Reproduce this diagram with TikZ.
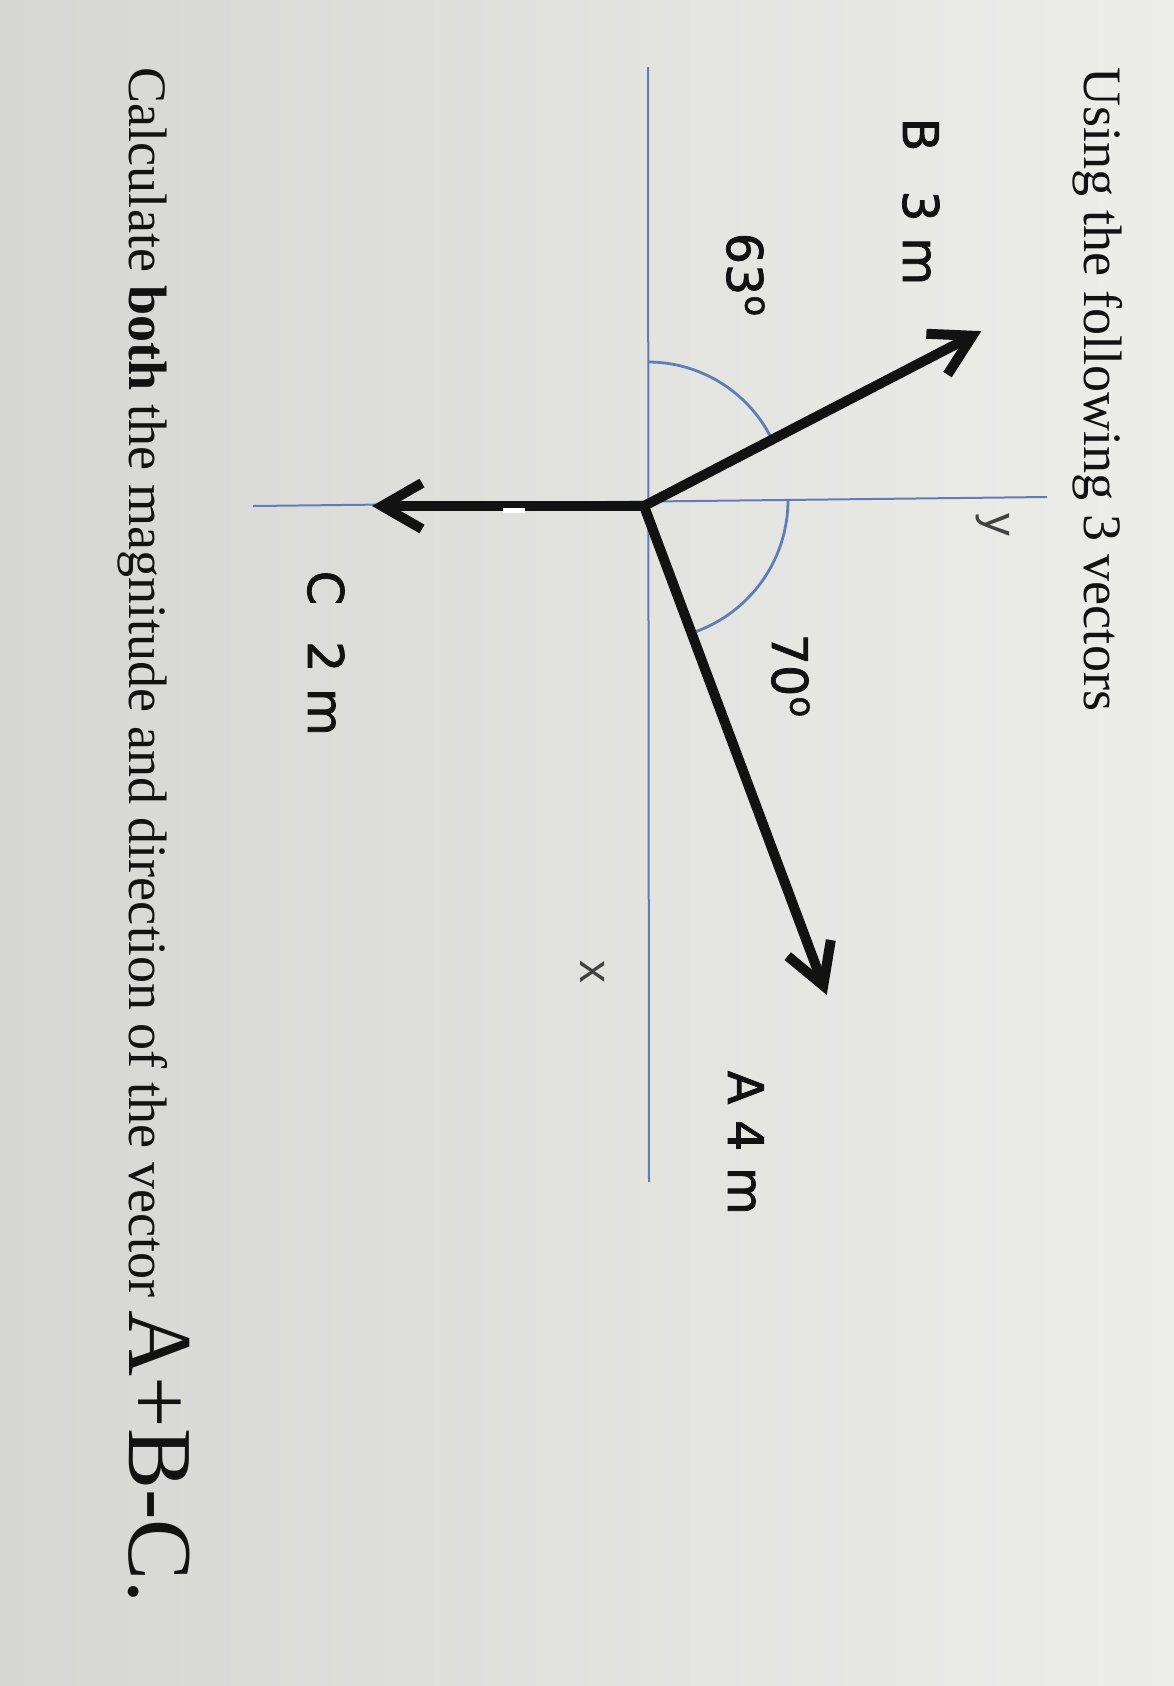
\documentclass[tikz,border=0pt]{standalone}
\usepackage{fontspec}
\setmainfont{Liberation Serif}
\newfontfamily\labelfont[FakeBold=1.5]{DejaVu Sans}
\newfontfamily\axisfont{Liberation Sans}
\usetikzlibrary{arrows.meta}
\definecolor{axisblue}{RGB}{96, 125, 182}
\definecolor{paperleft}{RGB}{214, 215, 212}
\definecolor{paperright}{RGB}{237, 238, 234}
\definecolor{inkblack}{RGB}{18, 18, 18}

\begin{document}
\begin{tikzpicture}[
  x=0.1mm, y=-0.1mm,
  axis/.style={axisblue, line width=0.2mm},
  anglearc/.style={axisblue, line width=0.28mm},
  vec/.style={inkblack, line width=1mm, -{Straight Barb[length=4mm, width=4.6mm]}},
  lbl/.style={rotate=-90, anchor=base west, inner sep=0pt, text=inkblack,
    font=\labelfont\fontsize{14}{16}\selectfont},
  axlbl/.style={rotate=-90, anchor=base west, inner sep=0pt, text=inkblack!80,
    font=\axisfont\fontsize{13}{15}\selectfont},
  txt/.style={rotate=-90, anchor=base west, inner sep=0pt, text=inkblack,
    font=\fontsize{15.4}{18}\selectfont}
]
  % Paper
  \shade[left color=paperleft, right color=paperright] (0,0) rectangle (1174,1686);
  \useasboundingbox (0,0) rectangle (1174,1686);

  % Axes
  \coordinate (xtop) at (648, 67);
  \coordinate (xbot) at (649, 1182);
  \coordinate (yleft) at (253, 506);
  \coordinate (yright) at (1047, 497);
  \draw[axis] (xtop) -- (xbot);
  \draw[axis] (yleft) -- (yright);

  % Angle arcs
  \coordinate (X) at (648, 500);
  \draw[anglearc] ([shift={(-90:138)}]X) arc[start angle=-90, end angle=-27, radius=138];
  \draw[anglearc] ([shift={(0:140)}]X) arc[start angle=0, end angle=70, radius=140];

  % Vectors
  \coordinate (O) at (644, 506);
  \coordinate (A) at ([shift={(69.5:522)}]O);
  \coordinate (B) at ([shift={(-27.4:380)}]O);
  \coordinate (C) at ([shift={(180:272)}]O);
  \draw[vec] (O) -- (A);
  \draw[vec] (O) -- (B);
  \draw[vec] (O) -- (C);
  \fill[white] (503, 508) rectangle (525, 513);

  % Labels
  \node[lbl] (labB) at (903, 117) {B\hspace{3.9mm}3 m};
  \node[lbl] (ang63) at (727, 232) {63\textsuperscript{o}};
  \node[lbl] (ang70) at (772, 633) {70\textsuperscript{o}};
  \node[lbl] (labA) at (728, 1070) {A 4 m};
  \node[lbl] (labC) at (308, 570) {C\hspace{3.6mm}2 m};
  \node[axlbl] (labx) at (580, 960) {x};
  \node[axlbl] (laby) at (985, 513) {y};

  % Text
  \node[txt] (title) at (1084, 67) {Using the following 3 vectors};
  \node[txt] (task) at (129, 67) {Calculate \textbf{both} the magnitude and direction of the vector {\fontsize{26}{30}\selectfont A+B-C.}};
\end{tikzpicture}
\end{document}
